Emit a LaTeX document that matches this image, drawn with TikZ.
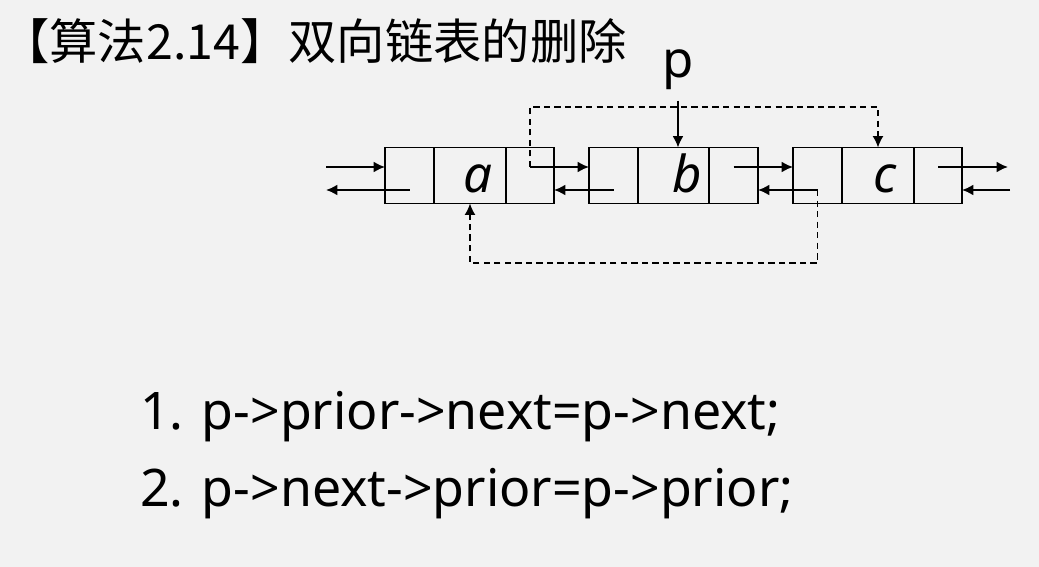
\documentclass[tikz,border=0pt]{standalone}
\usepackage{fontspec}
\setmainfont{Noto Sans}
\newfontfamily\cjk{Noto Sans CJK SC}
\usetikzlibrary{arrows.meta}

\definecolor{bg}{RGB}{242,242,242}

\tikzset{
  cell/.style={draw, line width=1pt, minimum height=1.12cm, inner sep=0pt, outer sep=0pt},
  link/.style={line width=1pt, ->},
  jump/.style={line width=0.9pt, dash pattern=on 3.6pt off 2.4pt, ->},
  code/.style={anchor=base west, inner sep=0pt, font=\fontsize{29.5}{35}\selectfont},
  val/.style={anchor=base, inner sep=0pt, font=\fontsize{29}{35}\selectfont\itshape},
}

\begin{document}
\begin{tikzpicture}[x=0.02cm, y=-0.02cm, >={Latex[length=2.3mm,width=2.2mm]}]
\fill[bg] (0,0) rectangle (1039,567);
\useasboundingbox (0,0) rectangle (1039,567);

% title
\node[anchor=west, inner sep=0pt, font=\cjk\fontsize{27.5}{32}\selectfont] (title) at (1,41) {【算法2.14】双向链表的删除};

% three list elements: prior | data | next
\node[cell, minimum width=0.98cm] (aP) at (409.5,175.5) {};
\node[cell, minimum width=1.44cm] (aD) at (470,175.5) {};
\node[cell, minimum width=0.96cm] (aN) at (530,175.5) {};
\node[cell, minimum width=0.98cm] (bP) at (613.5,175.5) {};
\node[cell, minimum width=1.42cm] (bD) at (673.5,175.5) {};
\node[cell, minimum width=0.98cm] (bN) at (733.5,175.5) {};
\node[cell, minimum width=0.98cm] (cP) at (817.5,175.5) {};
\node[cell, minimum width=1.44cm] (cD) at (878,175.5) {};
\node[cell, minimum width=0.96cm] (cN) at (938,175.5) {};

\node[val] (la) at (478,193) {a};
\node[val] (lb) at (687,193) {b};
\node[val] (lc) at (885,193) {c};

% rows of the links
\coordinate (up) at (0,167);
\coordinate (dn) at (0,190);
\coordinate (top) at (0,107);
\coordinate (bot) at (0,263);
\coordinate (lin) at (326,167);
\coordinate (lout) at (326,190);
\coordinate (rout) at (1008,167);
\coordinate (rin) at (1010,190);

\draw[link] (lin) -- (aP.west |- up);
\draw[link] (aP.center |- dn) -- (lout);
\draw[link] (aN.center |- up) -- (bP.west |- up);
\draw[link] (bP.center |- dn) -- (aN.east |- dn);
\draw[link] (bN.center |- up) -- (cP.west |- up);
\draw[link] (cP.center |- dn) -- (bN.east |- dn);
\draw[link] (cN.center |- up) -- (rout);
\draw[link] (rin) -- (cN.east |- dn);

% changed links
\draw[jump] (aN.center |- up) -- (aN.center |- top) -| (cD.north);
\draw[jump] (cP.center |- dn) -- (cP.center |- bot) -| (aD.south);

% pointer p
\node[val, font=\fontsize{29}{35}\selectfont] (p) at (678,78) {p};
\draw[link, shorten <=0.2cm] (p.south) -- (p.south |- bD.north);

% statements
\node[code] (s1) at (140,430) {1. p->prior->next=p->next;};
\node[code] (s2) at (140,507) {2. p->next->prior=p->prior;};
\end{tikzpicture}
\end{document}
